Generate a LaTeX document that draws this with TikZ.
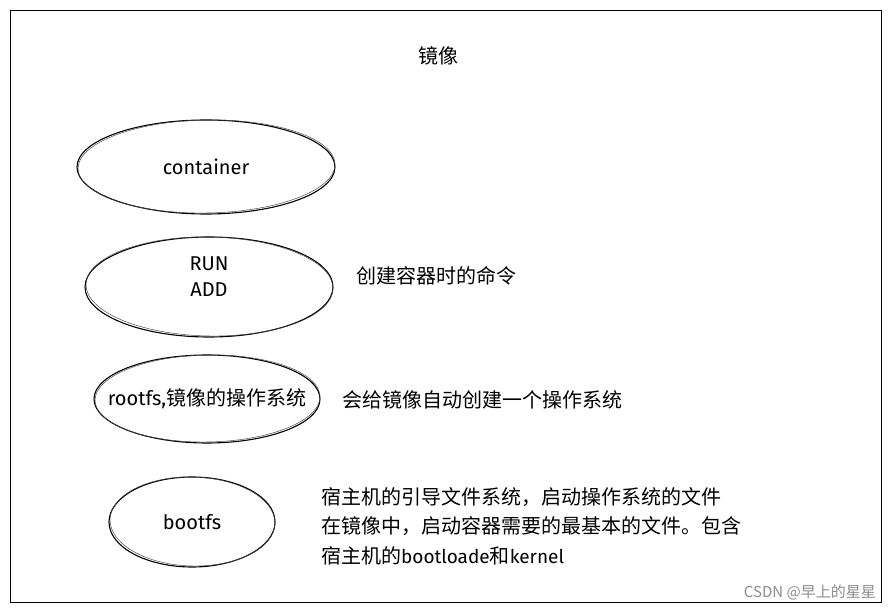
\documentclass[tikz,border=0pt]{standalone}
\usepackage{fontspec}
\setmainfont{Fira Sans}
\newfontfamily\cjk{Noto Sans CJK SC}
\usetikzlibrary{shapes.geometric}
\tikzset{
  label/.style={inner sep=0pt, font=\fontsize{20}{26}\selectfont, align=center},
  rim/.style={draw=black, line width=1.1pt},
  ghost/.style={draw=black!70, line width=0.5pt},
  note/.style={anchor=west, inner sep=0pt, font=\cjk\fontsize{20}{29.5}\selectfont, align=left},
}
\begin{document}
\begin{tikzpicture}[x=1pt,y=-1pt]
\useasboundingbox (0,0) rectangle (892,612);
\fill[white] (0,0) rectangle (892,612);
\draw[line width=1pt] (10,11) rectangle (881,602);
\node[font=\cjk\fontsize{20}{22}\selectfont] (title) at (438,56) {镜像};

\node[label] (c) at (206,167) {container};
\draw[rim] (c.center) ellipse [x radius=129, y radius=47];
\draw[ghost] ([shift={(0.5,-0.5)}]c.center) ellipse [x radius=128.5, y radius=46.5, rotate=1];

\node[label] (r) at (209,277) {RUN\\ADD};
\draw[rim] (209,287) ellipse [x radius=124, y radius=50];
\draw[ghost] (209.5,286.5) ellipse [x radius=123.5, y radius=49.5, rotate=-1];

\node[label, font=\fontsize{20}{22}\selectfont] (f) at (207,399) {rootfs,{\cjk 镜像的操作系统}};
\draw[rim] (f.center) ellipse [x radius=113, y radius=44];
\draw[ghost] ([shift={(0.5,-0.5)}]f.center) ellipse [x radius=112.5, y radius=43.5, rotate=1];

\node[label] (b) at (192,522) {bootfs};
\draw[rim] (b.center) ellipse [x radius=83, y radius=45];
\draw[ghost] ([shift={(0.5,-0.5)}]b.center) ellipse [x radius=82.5, y radius=44.5, rotate=-1.5];

\node[note] (n1) at (356,276) {创建容器时的命令};
\node[note] (n2) at (342,400) {会给镜像自动创建一个操作系统};
\node[note] (n3) at (321,526) {宿主机的引导文件系统，启动操作系统的文件\\在镜像中，启动容器需要的最基本的文件。包含\\宿主机的{\rmfamily\fontsize{19}{20}\selectfont bootloade}和{\rmfamily\fontsize{19}{20}\selectfont kernel}};

\node[anchor=east, inner sep=0pt, text=black!45, font=\cjk\fontsize{15}{18}\selectfont] (wm) at (876,592) {CSDN @早上的星星};
\end{tikzpicture}
\end{document}
